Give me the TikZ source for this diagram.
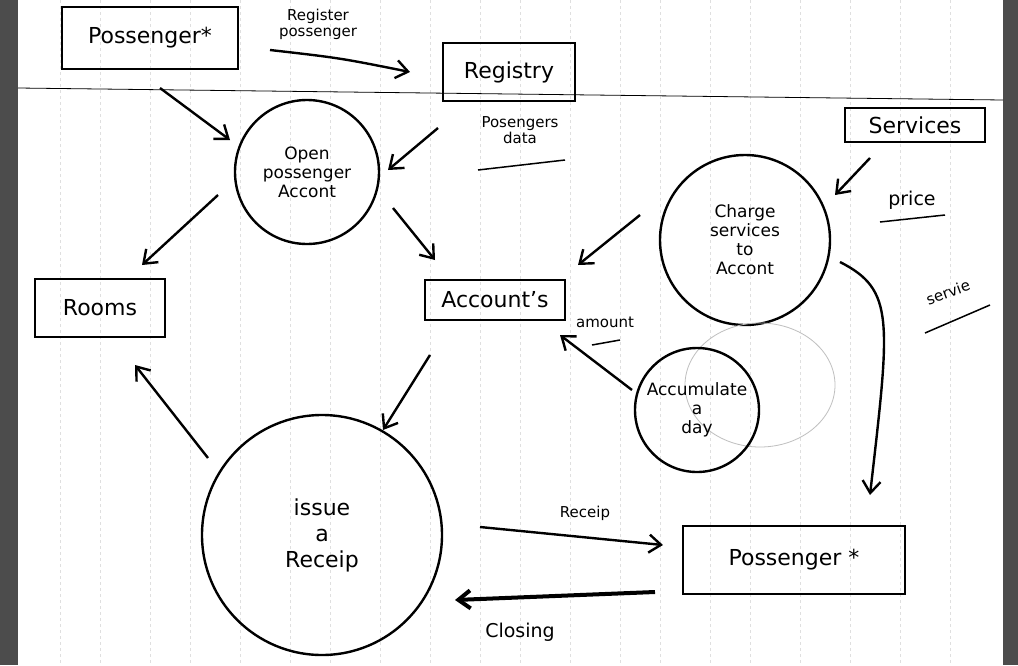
\documentclass[tikz,border=0pt]{standalone}
\usetikzlibrary{arrows.meta}
\usepackage{fontspec}
\setmainfont{DejaVu Sans}
\begin{document}
\begin{tikzpicture}[x=1pt,y=-1pt,
  ink/.style={line width=2.4pt,black},
  arr/.style={ink,-{Straight Barb[length=12pt,width=18pt]}},
  boxn/.style={draw,line width=2.2pt,inner sep=0pt,font=\fontsize{22}{24}\selectfont},
  proc/.style={draw,circle,line width=2.4pt,align=center,font=\fontsize{17}{19}\selectfont},
  lab/.style={font=\fontsize{15}{16}\selectfont,align=center}]
\useasboundingbox (0,0) rectangle (1018,665);
\fill[gray!60!black] (0,0) rectangle (1018,665);
\fill[white] (18,0) rectangle (1003,665);
\foreach \x in {60,100,150,190,240,290,330,380,430,480,520,570,620,660,710,750,800,850,900,950}
  \draw[gray!25,dashed] (\x,0) -- (\x,665);
\draw[line width=0.8pt] (18,88) -- (1003,100);
% boxes
\node[boxn,minimum width=176pt,minimum height=62pt] (pass1) at (150,38) {Possenger*};
\node[boxn,minimum width=132pt,minimum height=58pt] (reg) at (509,72) {Registry};
\node[boxn,minimum width=140pt,minimum height=34pt] (serv) at (915,125) {Services};
\node[boxn,minimum width=130pt,minimum height=58pt] (rooms) at (100,308) {Rooms};
\node[boxn,minimum width=140pt,minimum height=40pt] (acc) at (495,300) {Account's};
\node[boxn,minimum width=222pt,minimum height=68pt] (pass2) at (794,560) {Possenger *};
% circles
\node[proc,minimum size=144pt] (open) at (307,172) {Open\\possenger\\Accont};
\node[proc,minimum size=170pt] (charge) at (745,240) {Charge\\services\\to\\Accont};
\draw[gray!50,line width=0.8pt] (760,385) ellipse (75pt and 62pt);
\node[proc,minimum size=124pt,fill=none] (accum) at (697,410) {Accumulate\\a\\day};
\node[proc,minimum size=240pt,font=\fontsize{22}{26}\selectfont] (issue) at (322,535) {issue\\a\\Receip};
% coordinates
\coordinate (a1s) at (270,50); \coordinate (a1e) at (410,72);
\coordinate (a2s) at (160,88); \coordinate (a2e) at (230,140);
\coordinate (a3s) at (438,128); \coordinate (a3e) at (388,170);
\coordinate (a4s) at (870,158); \coordinate (a4e) at (835,195);
\coordinate (a5s) at (218,195); \coordinate (a5e) at (142,265);
\coordinate (a6s) at (393,208); \coordinate (a6e) at (435,260);
\coordinate (a7s) at (640,215); \coordinate (a7e) at (578,265);
\coordinate (a8s) at (840,262); \coordinate (a8e) at (870,495);
\coordinate (a9s) at (632,390); \coordinate (a9e) at (560,335);
\coordinate (b1s) at (430,355); \coordinate (b1e) at (383,430);
\coordinate (b2s) at (208,458); \coordinate (b2e) at (135,365);
\coordinate (b3s) at (480,527); \coordinate (b3e) at (663,545);
\coordinate (b4s) at (655,592); \coordinate (b4e) at (455,600);
\draw[arr] (a1s) .. controls (340,58) .. (a1e);
\draw[arr] (a2s) -- (a2e);
\draw[arr] (a3s) -- (a3e);
\draw[arr] (a4s) -- (a4e);
\draw[arr] (a5s) -- (a5e);
\draw[arr] (a6s) -- (a6e);
\draw[arr] (a7s) -- (a7e);
\draw[arr] (a8s) .. controls (895,290) and (890,320) .. (a8e);
\draw[arr] (a9s) -- (a9e);
\draw[arr] (b1s) -- (b1e);
\draw[arr] (b2s) -- (b2e);
\draw[arr] (b3s) -- (b3e);
\draw[arr,line width=4pt] (b4s) -- (b4e);
% labels
\node[lab] (l1) at (318,24) {Register\\possenger};
\node[lab] (l2) at (520,130) {Posengers\\data};
\node[lab,font=\fontsize{19}{20}\selectfont] (l3) at (912,200) {price};
\node[lab,rotate=20] (l4) at (948,292) {servie};
\node[lab] (l5) at (605,322) {amount};
\node[lab] (l6) at (585,513) {Receip};
\node[lab,font=\fontsize{19}{20}\selectfont] (l7) at (520,632) {Closing};
\draw[ink,line width=1.5pt] (880,222) -- (945,215);
\draw[ink,line width=1.5pt] (478,170) -- (565,160);
\draw[ink,line width=1.5pt] (925,333) -- (990,305);
\draw[ink,line width=1.5pt] (592,345) -- (620,340);
\end{tikzpicture}
\end{document}
